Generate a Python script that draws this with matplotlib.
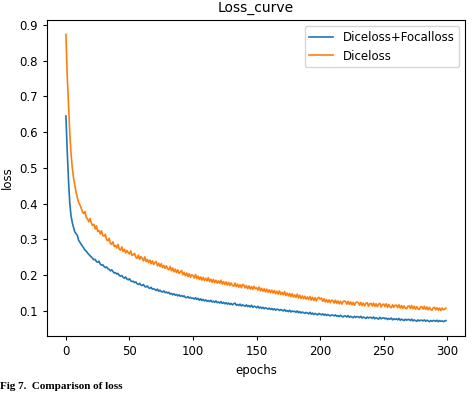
import matplotlib
matplotlib.use('Agg')
import matplotlib.pyplot as plt
import numpy as np

# loss values, one per epoch
dice_focal = [
    0.645, 0.548, 0.468, 0.402, 0.366, 0.347, 0.333, 0.321, 0.316, 0.311,
    0.297, 0.292, 0.286, 0.281, 0.276, 0.270, 0.267, 0.262, 0.258, 0.254,
    0.251, 0.247, 0.243, 0.244, 0.238, 0.236, 0.239, 0.231, 0.228, 0.229,
    0.224, 0.221, 0.223, 0.218, 0.216, 0.212, 0.215, 0.210, 0.206, 0.207,
    0.203, 0.205, 0.199, 0.197, 0.199, 0.194, 0.191, 0.195, 0.189, 0.187,
    0.190, 0.184, 0.182, 0.183, 0.179, 0.181, 0.176, 0.174, 0.177, 0.172,
    0.171, 0.174, 0.168, 0.167, 0.170, 0.165, 0.163, 0.166, 0.161, 0.162,
    0.160, 0.157, 0.161, 0.155, 0.158, 0.154, 0.153, 0.156, 0.151, 0.153,
    0.150, 0.152, 0.147, 0.149, 0.145, 0.148, 0.144, 0.146, 0.142, 0.145,
    0.141, 0.143, 0.140, 0.142, 0.138, 0.137, 0.140, 0.136, 0.138, 0.135,
    0.136, 0.133, 0.137, 0.132, 0.135, 0.130, 0.134, 0.129, 0.132, 0.128,
    0.131, 0.127, 0.129, 0.126, 0.130, 0.125, 0.127, 0.124, 0.128, 0.123,
    0.125, 0.122, 0.126, 0.121, 0.124, 0.120, 0.123, 0.119, 0.122, 0.118,
    0.121, 0.117, 0.120, 0.122, 0.116, 0.118, 0.115, 0.119, 0.114, 0.117,
    0.115, 0.113, 0.117, 0.112, 0.115, 0.111, 0.116, 0.110, 0.113, 0.112,
    0.109, 0.113, 0.108, 0.111, 0.107, 0.110, 0.106, 0.109, 0.107, 0.105,
    0.108, 0.104, 0.107, 0.103, 0.106, 0.102, 0.105, 0.104, 0.101, 0.104,
    0.102, 0.100, 0.104, 0.099, 0.101, 0.098, 0.102, 0.097, 0.100, 0.098,
    0.099, 0.096, 0.100, 0.095, 0.098, 0.094, 0.097, 0.095, 0.093, 0.096,
    0.094, 0.092, 0.096, 0.091, 0.094, 0.090, 0.093, 0.091, 0.089, 0.093,
    0.091, 0.089, 0.092, 0.088, 0.091, 0.087, 0.090, 0.088, 0.086, 0.089,
    0.088, 0.086, 0.089, 0.085, 0.087, 0.084, 0.088, 0.085, 0.083, 0.086,
    0.086, 0.083, 0.087, 0.082, 0.085, 0.083, 0.081, 0.085, 0.082, 0.084,
    0.084, 0.081, 0.085, 0.080, 0.083, 0.081, 0.079, 0.083, 0.080, 0.082,
    0.082, 0.079, 0.083, 0.078, 0.081, 0.079, 0.077, 0.082, 0.078, 0.080,
    0.081, 0.078, 0.080, 0.076, 0.079, 0.077, 0.080, 0.075, 0.078, 0.076,
    0.078, 0.075, 0.079, 0.074, 0.077, 0.075, 0.073, 0.077, 0.074, 0.076,
    0.076, 0.073, 0.077, 0.072, 0.075, 0.073, 0.071, 0.075, 0.072, 0.074,
    0.074, 0.072, 0.075, 0.071, 0.074, 0.072, 0.070, 0.073, 0.071, 0.073,
    0.073, 0.071, 0.074, 0.070, 0.073, 0.071, 0.072, 0.070, 0.072, 0.073,
]

dice = [
    0.873, 0.760, 0.680, 0.600, 0.540, 0.500, 0.472, 0.450, 0.432, 0.416,
    0.404, 0.396, 0.388, 0.377, 0.372, 0.378, 0.361, 0.357, 0.349, 0.358,
    0.346, 0.339, 0.342, 0.329, 0.338, 0.322, 0.325, 0.315, 0.324, 0.311,
    0.309, 0.314, 0.299, 0.296, 0.303, 0.289, 0.286, 0.293, 0.280, 0.283,
    0.276, 0.286, 0.272, 0.270, 0.279, 0.266, 0.272, 0.262, 0.269, 0.263,
    0.259, 0.268, 0.255, 0.257, 0.261, 0.250, 0.247, 0.256, 0.244, 0.252,
    0.247, 0.240, 0.251, 0.238, 0.244, 0.235, 0.242, 0.232, 0.240, 0.230,
    0.235, 0.238, 0.226, 0.233, 0.224, 0.232, 0.221, 0.227, 0.219, 0.226,
    0.218, 0.215, 0.224, 0.212, 0.220, 0.209, 0.217, 0.207, 0.215, 0.205,
    0.209, 0.213, 0.201, 0.208, 0.198, 0.206, 0.196, 0.204, 0.194, 0.201,
    0.199, 0.192, 0.202, 0.190, 0.197, 0.188, 0.195, 0.186, 0.194, 0.185,
    0.191, 0.184, 0.193, 0.182, 0.189, 0.180, 0.188, 0.179, 0.186, 0.178,
    0.184, 0.177, 0.186, 0.175, 0.182, 0.174, 0.181, 0.172, 0.180, 0.171,
    0.178, 0.171, 0.169, 0.178, 0.168, 0.175, 0.166, 0.173, 0.165, 0.174,
    0.172, 0.164, 0.171, 0.162, 0.170, 0.161, 0.168, 0.160, 0.169, 0.162,
    0.165, 0.158, 0.167, 0.156, 0.163, 0.155, 0.162, 0.153, 0.161, 0.152,
    0.159, 0.151, 0.158, 0.150, 0.157, 0.148, 0.155, 0.147, 0.156, 0.146,
    0.152, 0.145, 0.154, 0.143, 0.150, 0.142, 0.149, 0.140, 0.148, 0.139,
    0.145, 0.138, 0.147, 0.136, 0.144, 0.135, 0.142, 0.134, 0.141, 0.133,
    0.139, 0.132, 0.140, 0.130, 0.138, 0.129, 0.137, 0.128, 0.135, 0.138,
    0.133, 0.136, 0.127, 0.134, 0.125, 0.132, 0.124, 0.131, 0.123, 0.130,
    0.129, 0.122, 0.130, 0.121, 0.128, 0.120, 0.127, 0.119, 0.126, 0.128,
    0.126, 0.119, 0.127, 0.118, 0.125, 0.117, 0.124, 0.116, 0.123, 0.125,
    0.123, 0.116, 0.124, 0.115, 0.122, 0.114, 0.121, 0.123, 0.113, 0.120,
    0.121, 0.114, 0.122, 0.113, 0.120, 0.112, 0.119, 0.121, 0.111, 0.118,
    0.119, 0.112, 0.120, 0.110, 0.118, 0.111, 0.109, 0.117, 0.110, 0.116,
    0.116, 0.109, 0.117, 0.108, 0.115, 0.107, 0.114, 0.108, 0.106, 0.113,
    0.114, 0.107, 0.115, 0.106, 0.113, 0.105, 0.112, 0.106, 0.104, 0.111,
    0.112, 0.105, 0.113, 0.104, 0.111, 0.103, 0.110, 0.104, 0.102, 0.109,
    0.110, 0.103, 0.109, 0.102, 0.108, 0.101, 0.108, 0.103, 0.105, 0.108,
]

labels = ['Diceloss+Focalloss', 'Diceloss']

epochs = np.arange(len(dice_focal))

fig = plt.figure(figsize=(4.74, 3.93), dpi=100)
ax = fig.add_axes([0.099, 0.145, 0.882, 0.804])

ax.plot(epochs, dice_focal, color='#1f77b4', lw=1.2, label=labels[0])
ax.plot(epochs, dice, color='#ff7f0e', lw=1.2, label=labels[1])

ax.set_title('Loss_curve', fontsize=10)
ax.set_xlabel('epochs', fontsize=8.5)
ax.set_ylabel('loss', fontsize=8.5)
ax.tick_params(labelsize=8.5, length=3)
ax.legend(fontsize=8.5, loc='upper right')

# caption of the source figure, sitting at the bottom edge
fig.text(0.0, 0.004, 'Fig 7.  Comparison of loss', fontsize=8, fontweight='bold',
         family='Liberation Serif', va='bottom', ha='left')

plt.savefig('out.png', dpi=100)
